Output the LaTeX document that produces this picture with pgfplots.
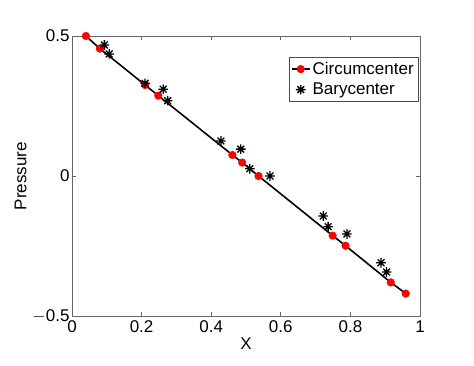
\documentclass[border=0pt]{standalone}
\usepackage{pgfplots}
\pgfplotsset{compat=1.18}
\usepackage{fontspec}
\setmainfont{Liberation Sans}
\pgfdeclareplotmark{mstar}{%
  \pgfpathmoveto{\pgfqpoint{-\pgfplotmarksize}{0pt}}\pgfpathlineto{\pgfqpoint{\pgfplotmarksize}{0pt}}%
  \pgfpathmoveto{\pgfqpoint{0pt}{-\pgfplotmarksize}}\pgfpathlineto{\pgfqpoint{0pt}{\pgfplotmarksize}}%
  \pgfpathmoveto{\pgfqpoint{-0.707\pgfplotmarksize}{-0.707\pgfplotmarksize}}\pgfpathlineto{\pgfqpoint{0.707\pgfplotmarksize}{0.707\pgfplotmarksize}}%
  \pgfpathmoveto{\pgfqpoint{-0.707\pgfplotmarksize}{0.707\pgfplotmarksize}}\pgfpathlineto{\pgfqpoint{0.707\pgfplotmarksize}{-0.707\pgfplotmarksize}}%
  \pgfusepathqstroke}
\begin{document}
\begin{tikzpicture}
\path[use as bounding box] (-72pt,-50pt) rectangle (402pt,316pt);
\begin{axis}[
  at={(0,0)}, anchor=south west,
  scale only axis, width=348pt, height=280pt,
  xmin=0, xmax=1, ymin=-0.5, ymax=0.5,
  xtick={0,0.2,0.4,0.6,0.8,1},
  ytick={-0.5,0,0.5},
  yticklabels={$-$0.5,0,0.5},
  xticklabels={0,0.2,0.4,0.6,0.8,1},
  tick align=inside, tick pos=both,
  major tick length=4pt,
  axis line style={draw=black!60, line width=0.7pt},
  every tick/.style={black!60, line width=0.7pt},
  tick label style={font=\fontsize{17}{17}\selectfont},
  xticklabel style={yshift=-1pt},
  yticklabel style={xshift=1pt},
  xlabel={X}, ylabel={Pressure},
  label style={font=\fontsize{17}{17}\selectfont},
  xlabel style={yshift=2pt},
  ylabel style={yshift=-1pt},
  legend style={at={(0.994,0.925)}, anchor=north east, font=\fontsize{17}{20}\selectfont,
     draw=black!70, inner xsep=2pt, inner ysep=3pt, row sep=3pt},
  legend cell align=left,
  legend image code/.code={%
    \draw[#1, mark repeat=2, mark phase=2] plot coordinates {(0cm,0cm) (0.32cm,0cm) (0.64cm,0cm)};},
]
\addplot[black, line width=1.6pt, mark=*, mark size=3.8pt, mark options={fill=red, draw=red, line width=0.5pt}]
  coordinates {
  (0.040,0.500) (0.080,0.455) (0.210,0.325) (0.248,0.287)
  (0.461,0.075) (0.489,0.048) (0.536,0.000) (0.749,-0.213)
  (0.786,-0.249) (0.916,-0.380) (0.959,-0.420)
  };
\addlegendentry{Circumcenter}
\addplot[only marks, mark=mstar, mark size=4.8pt, black, line width=1.3pt]
  coordinates {
  (0.093,0.468) (0.107,0.436) (0.210,0.331) (0.262,0.310) (0.275,0.269)
  (0.428,0.125) (0.485,0.096) (0.511,0.026) (0.569,0.000)
  (0.722,-0.143) (0.736,-0.181) (0.790,-0.207)
  (0.888,-0.310) (0.904,-0.343)
  };
\addlegendentry{Barycenter}
\end{axis}
\end{tikzpicture}
\end{document}
